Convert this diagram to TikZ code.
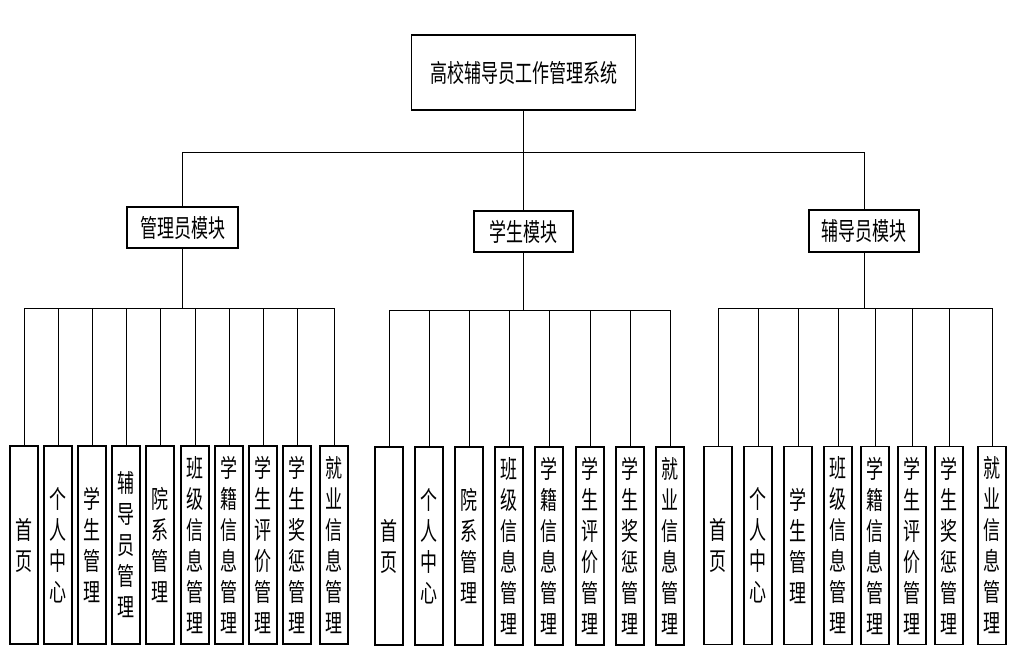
\documentclass[tikz,border=0pt]{standalone}
\usepackage{fontspec}
\newfontfamily\cjk[FakeStretch=0.68]{Noto Sans CJK SC}
\tikzset{
  box/.style={draw=black, line width=1.2pt, fill=white, inner sep=0pt, font=\cjk\fontsize{25}{31}\selectfont},
  leafbox/.style={box, align=center, minimum width=28, minimum height=198},
  link/.style={draw=black, line width=0.8pt}
}
\begin{document}
\begin{tikzpicture}[x=1pt, y=-1pt]
  \useasboundingbox (0,0) rectangle (1025,654);

  % Sistema
  \node[box, minimum width=224, minimum height=75] (root) at (523.5,72.5) {高校辅导员工作管理系统};

  % Modulos
  \node[box, minimum width=111, minimum height=41] (adm) at (182.5,227.5) {管理员模块};
  \node[box, minimum width=99, minimum height=41] (stu) at (523.5,231.5) {学生模块};
  \node[box, minimum width=110, minimum height=42] (cou) at (864,231) {辅导员模块};

  % Barras
  \coordinate (busTop) at (0,152);
  \coordinate (busA) at (0,308);
  \coordinate (busS) at (0,310);
  \coordinate (busC) at (0,308);

  % Hojas del administrador
  \foreach \x/\t [count=\i] in {24/首\\页, 58/个\\人\\中\\心, 92/学\\生\\管\\理, 126/辅\\导\\员\\管\\理,
      160/院\\系\\管\\理, 195/班\\级\\信\\息\\管\\理, 229/学\\籍\\信\\息\\管\\理,
      263/学\\生\\评\\价\\管\\理, 297/学\\生\\奖\\惩\\管\\理, 334/就\\业\\信\\息\\管\\理}
    \node[leafbox] (a\i) at (\x,545) {\t};

  % Hojas del estudiante
  \foreach \x/\t [count=\i] in {389/首\\页, 429/个\\人\\中\\心, 469/院\\系\\管\\理,
      509/班\\级\\信\\息\\管\\理, 549/学\\籍\\信\\息\\管\\理, 590/学\\生\\评\\价\\管\\理,
      630/学\\生\\奖\\惩\\管\\理, 670/就\\业\\信\\息\\管\\理}
    \node[leafbox] (s\i) at (\x,546) {\t};

  % Hojas del consejero
  \foreach \x/\t [count=\i] in {718/首\\页, 758/个\\人\\中\\心, 798/学\\生\\管\\理,
      838/班\\级\\信\\息\\管\\理, 875/学\\籍\\信\\息\\管\\理, 912/学\\生\\评\\价\\管\\理,
      949/学\\生\\奖\\惩\\管\\理, 992/就\\业\\信\\息\\管\\理}
    \node[leafbox] (c\i) at (\x,545.5) {\t};

  % Lineas superiores
  \draw[link] (root.south) -- (root.south |- busTop);
  \draw[link] (adm.north) |- (cou.north |- busTop) -- (cou.north);
  \draw[link] (stu.north) -- (stu.north |- busTop);

  % Lineas inferiores
  \draw[link] (adm.south) -- (adm.south |- busA);
  \draw[link] (a1.north) |- (a10.north |- busA) -- (a10.north);
  \foreach \i in {2,...,9}
    \draw[link] (a\i.north) -- (a\i.north |- busA);

  \draw[link] (stu.south) -- (stu.south |- busS);
  \draw[link] (s1.north) |- (s8.north |- busS) -- (s8.north);
  \foreach \i in {2,...,7}
    \draw[link] (s\i.north) -- (s\i.north |- busS);

  \draw[link] (cou.south) -- (cou.south |- busC);
  \draw[link] (c1.north) |- (c8.north |- busC) -- (c8.north);
  \foreach \i in {2,...,7}
    \draw[link] (c\i.north) -- (c\i.north |- busC);
\end{tikzpicture}
\end{document}
